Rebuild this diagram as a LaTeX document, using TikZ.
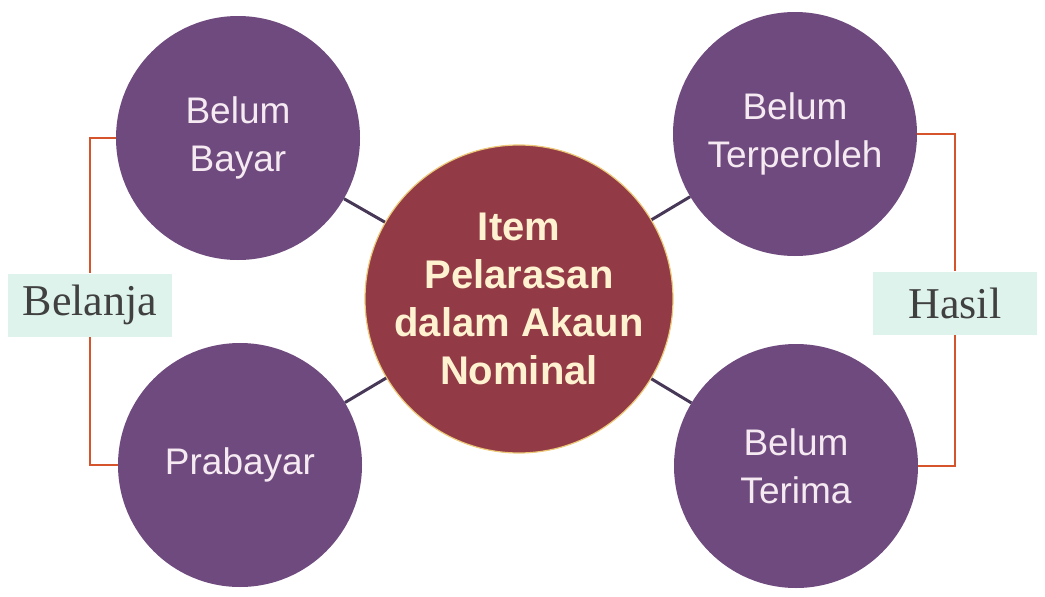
\documentclass[tikz,border=0pt]{standalone}
\usepackage{fontspec}
\setmainfont{Liberation Serif}
\setsansfont{Liberation Sans}
\usepackage{tikz}
\usetikzlibrary{positioning}
\definecolor{ungu}{RGB}{111,74,126}
\definecolor{merah}{RGB}{146,58,70}
\definecolor{tepi}{RGB}{236,200,120}
\definecolor{garis}{RGB}{72,56,88}
\definecolor{jingga}{RGB}{214,84,44}
\definecolor{hijau}{RGB}{222,243,235}
\definecolor{putih}{RGB}{246,234,242}
\definecolor{krim}{RGB}{255,242,208}
\tikzstyle{bulat}=[circle, fill=ungu, minimum size=244, inner sep=0, align=center, text=putih, font=\sffamily\fontsize{37}{48}\selectfont]
\tikzstyle{pusat}=[bulat, fill=merah, draw=tepi, line width=1.2, minimum size=308, text=krim, font=\sffamily\bfseries\fontsize{40}{48}\selectfont]
\tikzstyle{kotak}=[rectangle, fill=hijau, minimum width=164, minimum height=63, inner sep=0, text=black!75, font=\fontsize{44}{50}\selectfont]

\begin{document}
\begin{tikzpicture}
	\begin{scope}[x=1pt,y=-1pt]
		\useasboundingbox (0,0) rectangle (1045,597);
		\node[pusat]	(item)		at (519,299)	{Item\\Pelarasan\\dalam Akaun\\Nominal};
		\node[bulat]	(bayar)		at (238,138)	{Belum\\Bayar};
		\node[bulat]	(prabayar)	at (240,465)	{Prabayar};
		\node[bulat]	(peroleh)	at (795,134)	{Belum\\Terperoleh};
		\node[bulat]	(terima)	at (796,466)	{Belum\\Terima};
		\node[kotak]	(belanja)	at (90,305)		{Belanja};
		\node[kotak]	(hasil)		at (955,303)	{Hasil};

		\draw[garis,line width=3]	(bayar) -- (item);
		\draw[garis,line width=3]	(prabayar) -- (item);
		\draw[garis,line width=3]	(peroleh) -- (item);
		\draw[garis,line width=3]	(terima) -- (item);

		\draw[jingga,line width=2]	(bayar.west) -| (belanja.north);
		\draw[jingga,line width=2]	(prabayar.west) -| (belanja.south);
		\draw[jingga,line width=2]	(peroleh.east) -| (hasil.north);
		\draw[jingga,line width=2]	(terima.east) -| (hasil.south);
	\end{scope}
\end{tikzpicture}
\end{document}
